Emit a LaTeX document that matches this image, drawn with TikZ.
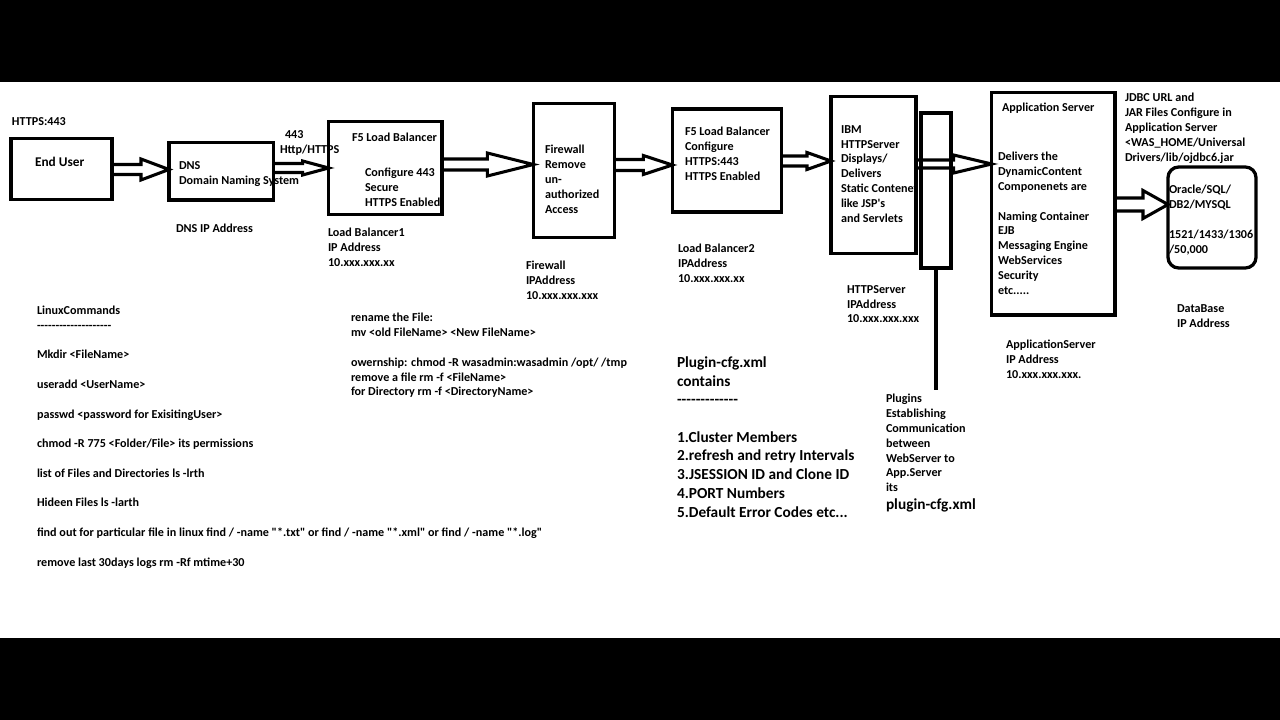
\documentclass[tikz,border=0pt]{standalone}
\usepackage{fontspec}
\setmainfont{Carlito}[Ligatures=TeXOff]
\usetikzlibrary{calc}

\tikzset{
  procbox/.style={draw,line width=2.45pt,inner sep=0pt,outer sep=0pt},
  flowline/.style={line width=2.3pt,miter limit=20},
  txt/.style={anchor=north west,inner sep=0pt,outer sep=0pt,align=left,font=\fontsize{9.1}{11.1}\selectfont\bfseries,execute at begin node=\strut},
  bigtxt/.style={txt,font=\fontsize{11.5}{14.06}\selectfont\bfseries},
}

% tail node, tip node, y, half shaft, half head, head length
\newcommand{\flowarrow}[6]{
  \coordinate (fs) at (#1.east |- 0,#3);
  \coordinate (ft) at (#2.west |- 0,#3);
  \draw [flowline] ($(fs)+(0,-#4)$) -- ($(ft)+(-#6,-#4)$) -- ($(ft)+(-#6,-#5)$) -- (ft) -- ($(ft)+(-#6,#5)$) -- ($(ft)+(-#6,#4)$) -- ($(fs)+(0,#4)$);
}

\begin{document}
\begin{tikzpicture}[x=0.75pt,y=0.75pt,yscale=-1,xscale=1]
\useasboundingbox (0,0) rectangle (1280,720);

%Black bands
\fill (0,0) rectangle (1280,82);
\fill (0,638) rectangle (1280,720);

%Boxes
\node [procbox,minimum width=75.75pt,minimum height=45.75pt] (user) at (61.5,168.8) {};
\node [procbox,minimum width=78.5pt,minimum height=43.25pt] (dns) at (221.3,171.2) {};
\node [procbox,minimum width=85pt,minimum height=69.5pt] (lbone) at (385.3,168) {};
\node [procbox,minimum width=61pt,minimum height=100.75pt] (firewall) at (574,170.5) {};
\node [procbox,minimum width=82pt,minimum height=77.25pt] (lbtwo) at (727,160.5) {};
\node [procbox,minimum width=63.75pt,minimum height=117.5pt] (ihs) at (873.5,175) {};
\node [procbox,minimum width=22.5pt,minimum height=116.25pt] (plugin) at (936,190.5) {};
\node [procbox,minimum width=92.5pt,minimum height=167pt] (appsrv) at (1053.3,203.6) {};
\node [procbox,rounded corners=8pt,minimum width=66pt,minimum height=75.75pt] (db) at (1212,217.5) {};

%Plugin stem
\coordinate (stemend) at (936,390);
\draw [flowline] (plugin.south) -- (stemend);

%Block arrows
\flowarrow{user}{dns}{169.5}{5}{10.5}{28}
\flowarrow{dns}{lbone}{168}{4.5}{7}{26}
\flowarrow{lbone}{firewall}{164.5}{5.5}{11.5}{46}
\flowarrow{firewall}{lbtwo}{165}{5.5}{9.5}{29}
\flowarrow{lbtwo}{ihs}{161}{5}{8.5}{24}
\flowarrow{ihs}{appsrv}{164}{4}{9}{38}
\flowarrow{appsrv}{db}{204.5}{6.5}{14}{25}

% Text Node
\node [txt] (tport) at (12,114.9) {HTTPS:443};
\node [txt,font=\fontsize{10}{12}\selectfont\bfseries] (tuser) at (35,155) {End User};
\node [txt] (tdns) at (179,161.4) {DNS\\Domain Naming System};
\node [txt] (tdnsip) at (176,222.4) {DNS IP Address};
\node [txt] (thttp) at (280,130.4) {\hspace{3.75pt}443\\Http/HTTPS};
\node [txt] (tlbone) at (352,131.4) {F5 Load Balancer};
\node [txt] (tlbconf) at (365,168.4) {Configure 443\\Secure\\HTTPS Enabled};
\node [txt] (tlboneip) at (328,228.4) {Load Balancer1\\IP Address\\10.xxx.xxx.xx};
\node [txt] (tfw) at (545,145.4) {Firewall\\Remove\\un-\\authorized\\Access};
\node [txt] (tfwip) at (526,261.4) {Firewall\\IPAddress\\10.xxx.xxx.xxx};
\node [txt] (tlbtwo) at (685,127.4) {F5 Load Balancer\\Configure\\HTTPS:443\\HTTPS Enabled};
\node [txt] (tlbtwoip) at (678,244.4) {Load Balancer2\\IPAddress\\10.xxx.xxx.xx};
\node [txt] (tihs) at (841,125.4) {IBM\\HTTPServer\\Displays/\\Delivers\\Static Contenet\\like JSP's\\and Servlets};
\node [txt] (tihsip) at (847,285.4) {HTTPServer\\IPAddress\\10.xxx.xxx.xxx};
\node [txt] (tapp) at (1002,101.4) {Application Server};
\node [txt] (tappbody) at (998,152.4) {Delivers the\\DynamicContent\\Componenets are\\[11.1pt]Naming Container\\EJB\\Messaging Engine\\WebServices\\Security\\etc.....};
\node [txt] (tappip) at (1006,340.4) {ApplicationServer\\IP Address\\10.xxx.xxx.xxx.};
\node [txt] (tjdbc) at (1125,93.4) {JDBC URL and\\JAR Files Configure in\\Application Server\\<WAS\_HOME/Universal\\Drivers/lib/ojdbc6.jar};
\node [txt] (tdb) at (1169,185.4) {Oracle/SQL/\\DB2/MYSQL\\[11.1pt]1521/1433/1306\\/50,000};
\node [txt] (tdbip) at (1177,304.4) {DataBase\\IP Address};
\node [txt] (tlinux) at (37,306) {LinuxCommands\\--------------------\\[11.1pt]Mkdir <FileName>\\[11.1pt]useradd <UserName>\\[11.1pt]passwd <password for ExisitingUser>\\[11.1pt]chmod -R 775 <Folder/File> its permissions\\[11.1pt]list of Files and Directories ls -lrth\\[11.1pt]Hideen Files ls -larth\\[11.1pt]find out for particular file in linux find / -name "*.txt" or find / -name "*.xml" or find / -name "*.log"\\[11.1pt]remove last 30days logs rm -Rf mtime+30};
\node [txt] (trename) at (351,313.4) {rename the File:\\mv <old FileName> <New FileName>\\[11.1pt]owernship: chmod -R wasadmin:wasadmin /opt/ /tmp\\remove a file rm -f <FileName>\\for Directory rm -f <DirectoryName>};
\node [bigtxt] (tcfg) at (677,356.5) {Plugin-cfg.xml\\contains\\-------------\\[14.06pt]1.Cluster Members\\2.refresh and retry Intervals\\3.JSESSION ID and Clone ID\\4.PORT Numbers\\5.Default Error Codes etc...};
\node [txt] (tplugins) at (886,394.4) {Plugins\\Establishing\\Communication\\between\\WebServer to\\App.Server\\its};
\node [bigtxt] (tplugcfg) at (886,496) {plugin-cfg.xml};

\end{tikzpicture}
\end{document}
